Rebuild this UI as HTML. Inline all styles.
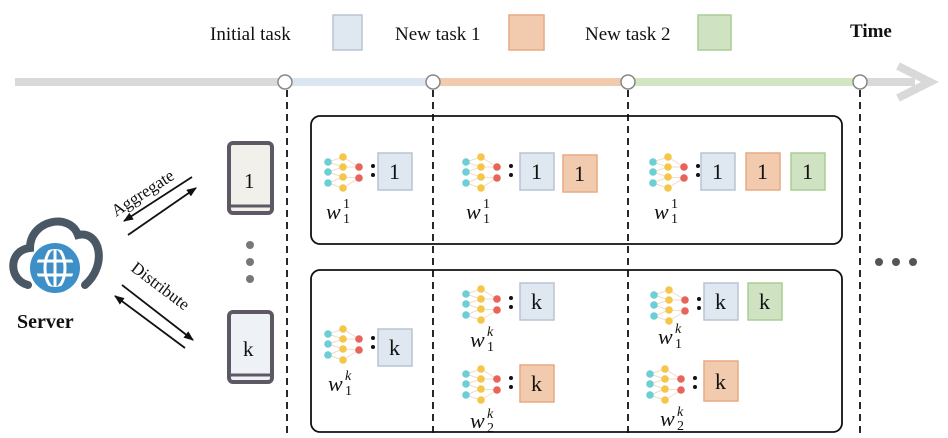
<!DOCTYPE html>
<html><head><meta charset="utf-8"><style>body{margin:0;background:#fff}svg{display:block}text{font-family:"Liberation Serif",serif;fill:#111}</style></head><body>
<svg width="948" height="438" viewBox="0 0 948 438" xmlns="http://www.w3.org/2000/svg">
<defs>
<g id="net">
<g stroke="#eedcc8" stroke-width="1" fill="none"><path d="M3 10L18 5M3 10L18 15M3 20L18 15M3 20L18 25M3 31L18 25M3 31L18 36M18 5L34 15M18 15L34 15M18 25L34 26M18 36L34 26"/></g>
<g fill="#6ccfd6"><circle cx="3" cy="10" r="3.8"/><circle cx="3" cy="20" r="3.8"/><circle cx="3" cy="31" r="3.8"/></g>
<g fill="#f5c64a"><circle cx="18" cy="5" r="3.8"/><circle cx="18" cy="15" r="3.8"/><circle cx="18" cy="25" r="3.8"/><circle cx="18" cy="36" r="3.8"/></g>
<g fill="#e8645a"><circle cx="34" cy="15" r="3.8"/><circle cx="34" cy="26" r="3.8"/></g>
<g fill="#111"><circle cx="48" cy="14" r="2"/><circle cx="48" cy="23" r="2"/></g>
</g>
<marker id="ah" markerWidth="10" markerHeight="8" refX="9" refY="4" orient="auto" markerUnits="userSpaceOnUse"><path d="M0 0L10 4L0 8z" fill="#111"/></marker>
</defs>
<text x="210" y="40" font-size="19">Initial task</text>
<rect x="333" y="15" width="29" height="35" fill="#dfe7f1" stroke="#b9c4d3" stroke-width="1.5"/>
<text x="395" y="40" font-size="19">New task 1</text>
<rect x="509" y="15" width="35" height="35" fill="#f2cbae" stroke="#e7aa82" stroke-width="1.5"/>
<text x="585" y="40" font-size="19">New task 2</text>
<rect x="698" y="15" width="33" height="35" fill="#cfe3c2" stroke="#a9cd93" stroke-width="1.5"/>
<text x="850" y="37" font-size="19" font-weight="bold">Time</text>
<line x1="15" y1="82" x2="915" y2="82" stroke="#d9d9d9" stroke-width="8"/>
<path d="M898 66L930 82L898 98" fill="none" stroke="#d9d9d9" stroke-width="8"/>
<line x1="285" y1="82" x2="433" y2="82" stroke="#dbe6f0" stroke-width="8"/>
<line x1="433" y1="82" x2="628" y2="82" stroke="#f2cbae" stroke-width="8"/>
<line x1="628" y1="82" x2="860" y2="82" stroke="#d2e6c4" stroke-width="8"/>
<g fill="#fff" stroke="#888" stroke-width="1.5"><circle cx="285" cy="82" r="7"/><circle cx="433" cy="82" r="7"/><circle cx="628" cy="82" r="7"/><circle cx="860" cy="82" r="7"/></g>
<g stroke="#111" stroke-width="1.8" stroke-dasharray="7 5"><line x1="287" y1="90" x2="287" y2="438"/><line x1="433" y1="90" x2="433" y2="438"/><line x1="628" y1="90" x2="628" y2="438"/><line x1="860" y1="90" x2="860" y2="438"/></g>
<rect x="311" y="116" width="531" height="128" rx="9" fill="none" stroke="#111" stroke-width="1.8"/>
<rect x="311" y="270" width="531" height="162" rx="9" fill="none" stroke="#111" stroke-width="1.8"/>
<g fill="#555"><circle cx="879" cy="262" r="4"/><circle cx="896" cy="262" r="4"/><circle cx="913" cy="262" r="4"/></g>
<path d="M28 285 C8 280 8 250 30 248 C30 220 70 212 78 235 C100 230 108 265 85 285" fill="none" stroke="#4a5865" stroke-width="8" stroke-linecap="round"/>
<circle cx="55" cy="268" r="25" fill="#3e8fc8"/>
<g fill="none" stroke="#fff" stroke-width="3"><ellipse cx="55" cy="268" rx="10" ry="20"/><line x1="55" y1="248" x2="55" y2="288"/><line x1="36" y1="261" x2="74" y2="261"/><line x1="36" y1="275" x2="74" y2="275"/></g>
<circle cx="55" cy="268" r="21" fill="none" stroke="#3e8fc8" stroke-width="4"/>
<text x="17" y="328" font-size="20" font-weight="bold">Server</text>
<line x1="192" y1="177" x2="124" y2="221" stroke="#111" stroke-width="1.8" marker-end="url(#ah)"/>
<line x1="128" y1="235" x2="196" y2="188" stroke="#111" stroke-width="1.8" marker-end="url(#ah)"/>
<text x="0" y="0" font-size="17" transform="translate(116 217) rotate(-33)">Aggregate</text>
<line x1="122" y1="285" x2="193" y2="340" stroke="#111" stroke-width="1.8" marker-end="url(#ah)"/>
<line x1="185" y1="348" x2="115" y2="296" stroke="#111" stroke-width="1.8" marker-end="url(#ah)"/>
<text x="0" y="0" font-size="17" transform="translate(130 270) rotate(37)">Distribute</text>
<rect x="229" y="143" width="43" height="70" rx="4" fill="#f1f0ea" stroke="#5e5865" stroke-width="4"/>
<line x1="229" y1="206" x2="272" y2="206" stroke="#5e5865" stroke-width="3"/>
<text x="244" y="188" font-size="21">1</text>
<rect x="229" y="312" width="43" height="70" rx="4" fill="#eef2f7" stroke="#5e5865" stroke-width="4"/>
<line x1="229" y1="375" x2="272" y2="375" stroke="#5e5865" stroke-width="3"/>
<text x="243" y="356" font-size="21">k</text>
<g fill="#777"><circle cx="250" cy="245" r="4"/><circle cx="250" cy="262" r="4"/><circle cx="250" cy="279" r="4"/></g>
<g font-size="22">
<use href="#net" x="325" y="152"/>
<rect x="378" y="153" width="34" height="37" fill="#dfe7f1" stroke="#b9c4d3" stroke-width="1.5"/><text x="389" y="179">1</text>
<text x="326" y="219" font-style="italic">w</text><text x="343" y="208" font-size="14">1</text><text x="343" y="223" font-size="14">1</text>
<use href="#net" x="463" y="152"/>
<rect x="520" y="153" width="34" height="37" fill="#dfe7f1" stroke="#b9c4d3" stroke-width="1.5"/><text x="531" y="179">1</text>
<rect x="563" y="155" width="34" height="37" fill="#f2cbae" stroke="#e7aa82" stroke-width="1.5"/><text x="574" y="181">1</text>
<text x="466" y="219" font-style="italic">w</text><text x="483" y="208" font-size="14">1</text><text x="483" y="223" font-size="14">1</text>
<use href="#net" x="650" y="152"/>
<rect x="701" y="153" width="34" height="37" fill="#dfe7f1" stroke="#b9c4d3" stroke-width="1.5"/><text x="712" y="179">1</text>
<rect x="746" y="153" width="34" height="37" fill="#f2cbae" stroke="#e7aa82" stroke-width="1.5"/><text x="757" y="179">1</text>
<rect x="791" y="153" width="34" height="37" fill="#cfe3c2" stroke="#a9cd93" stroke-width="1.5"/><text x="802" y="179">1</text>
<text x="654" y="219" font-style="italic">w</text><text x="671" y="208" font-size="14">1</text><text x="671" y="223" font-size="14">1</text>
<use href="#net" x="325" y="324"/>
<rect x="378" y="329" width="34" height="37" fill="#dfe7f1" stroke="#b9c4d3" stroke-width="1.5"/><text x="389" y="355">k</text>
<text x="328" y="391" font-style="italic">w</text><text x="345" y="380" font-size="14" font-style="italic">k</text><text x="345" y="395" font-size="14">1</text>
<use href="#net" x="463" y="284"/>
<rect x="520" y="283" width="34" height="37" fill="#dfe7f1" stroke="#b9c4d3" stroke-width="1.5"/><text x="531" y="309">k</text>
<text x="470" y="347" font-style="italic">w</text><text x="487" y="336" font-size="14" font-style="italic">k</text><text x="487" y="351" font-size="14">1</text>
<use href="#net" x="463" y="364"/>
<rect x="520" y="365" width="34" height="37" fill="#f2cbae" stroke="#e7aa82" stroke-width="1.5"/><text x="531" y="391">k</text>
<text x="470" y="428" font-style="italic">w</text><text x="487" y="418" font-size="14" font-style="italic">k</text><text x="487" y="432" font-size="14">2</text>
<use href="#net" x="651" y="285"/>
<rect x="704" y="283" width="34" height="37" fill="#dfe7f1" stroke="#b9c4d3" stroke-width="1.5"/><text x="715" y="309">k</text>
<rect x="748" y="283" width="34" height="37" fill="#cfe3c2" stroke="#a9cd93" stroke-width="1.5"/><text x="759" y="309">k</text>
<text x="658" y="344" font-style="italic">w</text><text x="675" y="333" font-size="14" font-style="italic">k</text><text x="675" y="348" font-size="14">1</text>
<use href="#net" x="647" y="364"/>
<rect x="704" y="361" width="34" height="40" fill="#f2cbae" stroke="#e7aa82" stroke-width="1.5"/><text x="715" y="389">k</text>
<text x="660" y="426" font-style="italic">w</text><text x="677" y="416" font-size="14" font-style="italic">k</text><text x="677" y="430" font-size="14">2</text>
</g>
</svg>
</body></html>
